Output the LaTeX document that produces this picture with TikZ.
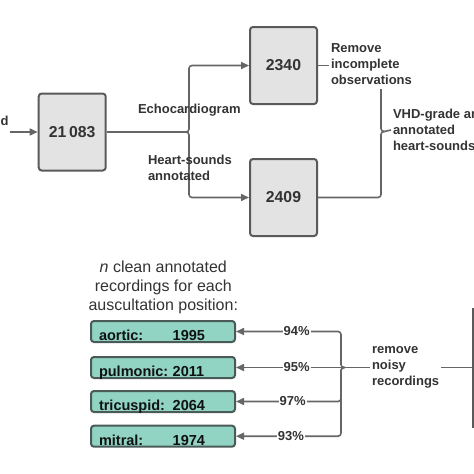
\documentclass[tikz,border=0pt]{standalone}
\usepackage{fontspec}
\setmainfont{Liberation Sans}
\usetikzlibrary{arrows.meta}
\definecolor{boxgray}{HTML}{E3E3E3}
\definecolor{edgegray}{HTML}{5A5A5A}
\definecolor{linegray}{HTML}{666666}
\definecolor{valveteal}{HTML}{92D4C4}
\definecolor{valveedge}{HTML}{4A5A56}
\definecolor{textdark}{HTML}{333333}
\newcommand{\valve}[2]{\makebox[73.7pt][l]{#1}#2}
\begin{document}
\begin{tikzpicture}[x=1pt,y=-1pt,
  countbox/.style={draw=edgegray,line width=2pt,fill=boxgray,rounded corners=3pt,minimum width=67pt,minimum height=77pt,inner sep=0pt,font=\fontsize{15.8}{18}\selectfont\bfseries,text=textdark},
  valvebox/.style={draw=valveedge,line width=2pt,fill=valveteal,rounded corners=3pt,minimum width=144pt,minimum height=21pt,text width=128pt,inner xsep=8pt,inner ysep=1.5pt,text height=18pt,text depth=0pt,align=left,font=\fontsize{14.5}{16}\selectfont\bfseries,text=black!80!valveedge},
  lbl/.style={inner sep=0pt,outer sep=2pt,align=left,font=\fontsize{13}{16}\selectfont\bfseries,text=textdark},
  pct/.style={fill=white,inner sep=1pt,font=\fontsize{13}{15}\selectfont\bfseries,text=textdark},
  link/.style={draw=linegray,line width=1.6pt},
  arr/.style={link,-{Triangle[length=8pt,width=7pt]}}]
\useasboundingbox (0,0) rectangle (474,474);

% counts
\node[countbox] (n21083) at (72.2,132) {21\,083};
\node[countbox] (n2340) at (283.5,65.5) {2340};
\node[countbox] (n2409) at (283.5,197.5) {2409};

\node[lbl,anchor=base east,inner sep=0pt,outer sep=0pt] (cut) at (8.5,125.7) {d};
\coordinate (in) at (9.5,132);
\draw[arr] (in) -- (n21083.west);

% split
\coordinate (b1) at (185.5,132);
\draw[link] (n21083.east) -- (b1);
\draw[arr,rounded corners=3pt] (b1) -- ++(3.5,0) |- (n2340.west);
\draw[arr,rounded corners=3pt] (b1) -- ++(3.5,0) |- (n2409.west);
\node[lbl,anchor=west] (echo) at (136,110.4) {Echocardiogram};
\node[lbl,anchor=west] (hsa) at (146,168) {Heart-sounds\\annotated};

% merge
\node[lbl,anchor=west] (rmv) at (329,64) {Remove\\incomplete\\observations};
\draw[link] (n2340.east) -- (n2340.east -| rmv.west);
\coordinate (b2) at (384.5,131.5);
\coordinate (b2top) at (381,89);
\draw[link,rounded corners=3pt] (b2) -- ++(-3.5,0) |- (n2409.east);
\draw[link,rounded corners=3pt] (b2) -- ++(-3.5,0) -- (b2top);
\node[lbl,anchor=west] (vhd) at (391,130) {VHD-grade and\\annotated\\heart-sounds};
\draw[link] (b2) -- (vhd.west);

% positions
\node[align=center,inner sep=0pt,font=\fontsize{16}{19.3}\selectfont,text=textdark] (title) at (163.3,287.5) {{\itshape n} clean annotated\\recordings for each\\auscultation position:};
\node[valvebox] (aortic) at (163,331.5) {\valve{aortic:}{1995}};
\node[valvebox] (pulmonic) at (163,367.5) {\valve{pulmonic:}{2011}};
\node[valvebox] (tricuspid) at (163,401.5) {\valve{tricuspid:}{2064}};
\node[valvebox] (mitral) at (163,436.2) {\valve{mitral:}{1974}};

\node[draw=edgegray,line width=2pt,minimum width=88pt,minimum height=118pt] (src) at (517,367.5) {};
\node[lbl,anchor=west] (noisy) at (370,367.5) {remove\\noisy\\recordings};
\draw[link] (src.west) -- (noisy.east);
\coordinate (b3) at (344.5,367.5);
\draw[link] (b3) -- (noisy.west);
\draw[arr,rounded corners=3pt] (b3) -- ++(-3.5,0) |- (aortic.east);
\draw[arr] (b3) -- (pulmonic.east);
\draw[arr,rounded corners=3pt] (b3) -- ++(-3.5,0) |- (tricuspid.east);
\draw[arr,rounded corners=3pt] (b3) -- ++(-3.5,0) |- (mitral.east);
\node[pct] (p94) at (296.7,331.5) {94\%};
\node[pct] (p95) at (296.7,367.5) {95\%};
\node[pct] (p97) at (292.7,401.5) {97\%};
\node[pct] (p93) at (291,436.2) {93\%};
\end{tikzpicture}
\end{document}
